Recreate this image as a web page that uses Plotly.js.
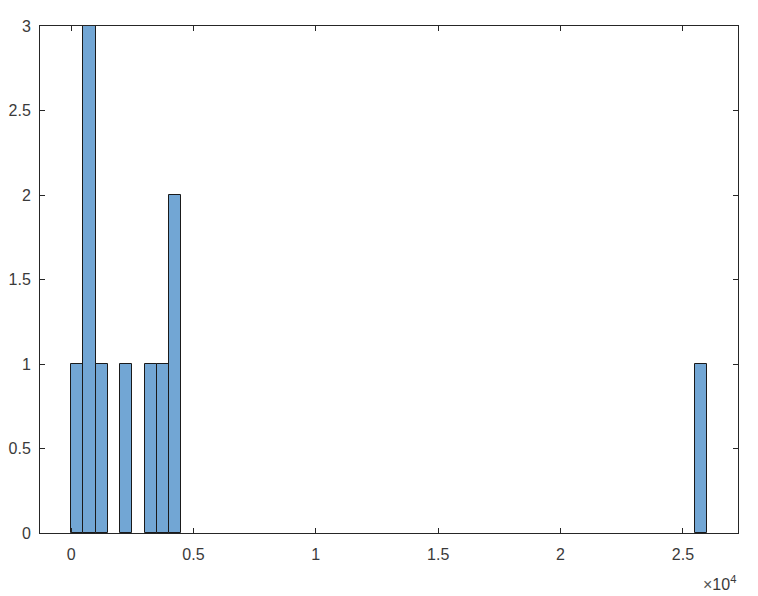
<!DOCTYPE html>
<html>
<head>
<meta charset="utf-8">
<script src="https://cdn.plot.ly/plotly-3.0.1.min.js"></script>
<style>
  html, body { margin: 0; padding: 0; background: white; }
  #plot { width: 758px; height: 596px; }
</style>
</head>
<body>
<div id="plot"></div>
<script>
// Histogram bins (width 500)
const binStarts = [0, 500, 1000, 2000, 3000, 3500, 4000, 25500];
const counts = [1, 3, 1, 1, 1, 1, 2, 1];
const binWidth = 500;

// Axis ticks
const xTickVals = [0, 5000, 10000, 15000, 20000, 25000];
const xTickText = ['0', '0.5', '1', '1.5', '2', '2.5'];
const yTickVals = [0, 0.5, 1, 1.5, 2, 2.5, 3];

const axisColor = '#262626';
const labelFont = { family: 'Liberation Sans, Arial, sans-serif', size: 16, color: '#3a3a3a' };

const barTrace = {
    x: binStarts.map(s => s + binWidth / 2),
    y: counts,
    width: binStarts.map(() => binWidth),
    type: 'bar',
    marker: {
        color: 'rgb(114,166,212)',
        line: { color: '#1a1a1a', width: 1 }
    },
    hoverinfo: 'x+y'
};

const commonAxis = {
    showgrid: false,
    zeroline: false,
    showline: true,
    linecolor: axisColor,
    linewidth: 1,
    mirror: 'ticks',
    ticks: 'inside',
    ticklen: 5,
    tickcolor: axisColor,
    tickfont: labelFont
};

const layout = {
    width: 758,
    height: 596,
    margin: { l: 40, r: 20, t: 26, b: 63 },
    paper_bgcolor: 'white',
    plot_bgcolor: 'white',
    showlegend: false,
    bargap: 0,
    xaxis: Object.assign({}, commonAxis, {
        range: [-1270, 27250],
        tickvals: xTickVals,
        ticktext: xTickText,
        ticklabelstandoff: 7
    }),
    yaxis: Object.assign({}, commonAxis, {
        range: [0, 3],
        tickvals: yTickVals,
        ticklabelstandoff: 5
    }),
    annotations: [{
        xref: 'paper', yref: 'paper',
        x: 1, y: 0, xanchor: 'right', yanchor: 'bottom',
        yshift: -62,
        showarrow: false,
        text: '<span style="color:#555">×</span>10<sup>4</sup>',
        font: labelFont
    }]
};

Plotly.newPlot('plot', [barTrace], layout, { displayModeBar: false });
</script>
</body>
</html>
